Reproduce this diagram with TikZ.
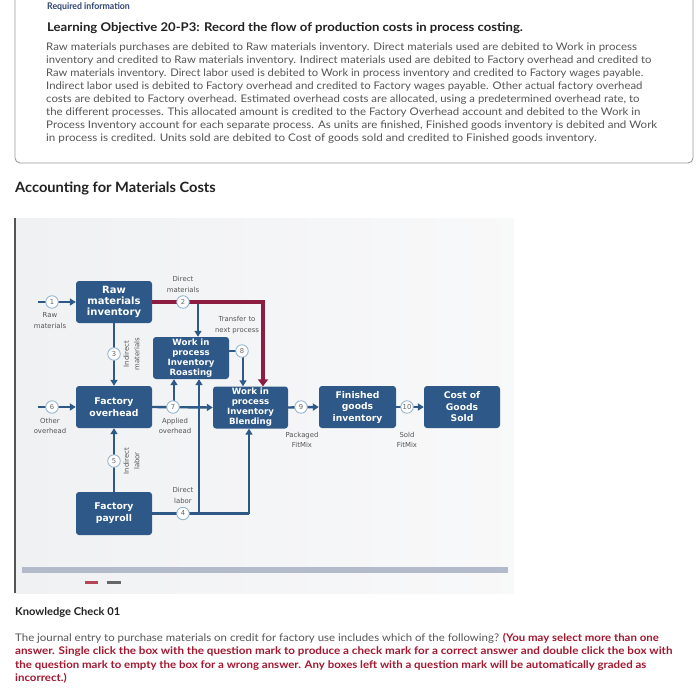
\documentclass[tikz,border=0pt]{standalone}
\usepackage{graphicx}
\usepackage{fontspec}
\setmainfont{Lato}
\newfontfamily\dv{DejaVu Sans}
\usetikzlibrary{arrows.meta}
\newcommand\sxw[2]{\scalebox{#1}[1]{#2}}
\definecolor{boxblue}{HTML}{2D5887}
\definecolor{lineblue}{HTML}{2E5886}
\definecolor{redline}{HTML}{8C1D40}
\definecolor{ringblue}{HTML}{8FB3CC}
\definecolor{numgrey}{HTML}{666666}
\definecolor{lblgrey}{HTML}{555555}
\definecolor{paragrey}{HTML}{555555}
\definecolor{headdark}{HTML}{222222}
\definecolor{reqblue}{HTML}{2E4470}
\definecolor{kcred}{HTML}{A3172F}
\definecolor{panelbg}{HTML}{F0F1F3}
\definecolor{sliderc}{HTML}{B3BBCB}
\definecolor{framegrey}{HTML}{9A9A9A}
\tikzset{
  acct/.style={fill=boxblue, rounded corners=3pt, text=white, align=center, inner sep=0pt,
    minimum width=76pt, minimum height=42pt, font=\dv\bfseries\fontsize{9}{11.5}\selectfont},
  flow/.style={draw=lineblue, line width=2.4pt, -{Triangle[length=6pt,width=7pt]}},
  plainflow/.style={draw=lineblue, line width=2.4pt},
  redflow/.style={draw=redline, line width=4pt, -{Triangle[length=7pt,width=10pt]}},
  num/.style={circle, draw=ringblue, line width=0.8pt, fill=white, text=numgrey,
    font=\dv\fontsize{6.8}{7}\selectfont, inner sep=0.6pt, minimum size=12.5pt},
  lbl/.style={text=lblgrey, font=\dv\fontsize{6.9}{10.5}\selectfont, align=center, inner sep=0pt},
  ptext/.style={anchor=base west, inner sep=0pt, text=paragrey, font=\fontsize{10.5}{12}\selectfont},
  ktext/.style={anchor=base west, inner sep=0pt, text=paragrey, font=\fontsize{10.5}{12}\selectfont},
  kred/.style={anchor=base west, inner sep=0pt, text=kcred, font=\bfseries\fontsize{10.5}{12}\selectfont},
  dashmark/.style={line width=3pt},
}
\begin{document}
\begin{tikzpicture}[x=1pt,y=-1pt]
\useasboundingbox (0,0) rectangle (700,698);
\fill[white] (0,0) rectangle (700,698);
% top frame
\draw[framegrey, line width=0.9pt, rounded corners=5pt] (15,-10) -- (15,163) -- (693,163) -- (693,-10);
\node[anchor=base west, inner sep=0pt, text=reqblue, font=\bfseries\fontsize{9.2}{11}\selectfont] (req) at (47,9.5) {\sxw{0.95}{Required information}};
\node[anchor=base west, inner sep=0pt, text=headdark, font=\bfseries\fontsize{12}{13}\selectfont] (lo) at (47,31.5) {\sxw{1.094}{Learning Objective 20-P3: Record the flow of production costs in process costing.}};
\node[ptext] (p1) at (46,50.5) {\sxw{1.093}{Raw materials purchases are debited to Raw materials inventory. Direct materials used are debited to Work in process}};
\node[ptext] (p2) at (46,63.5) {\sxw{1.078}{inventory and credited to Raw materials inventory. Indirect materials used are debited to Factory overhead and credited to}};
\node[ptext] (p3) at (46,76.5) {\sxw{1.066}{Raw materials inventory. Direct labor used is debited to Work in process inventory and credited to Factory wages payable.}};
\node[ptext] (p4) at (46,89.5) {\sxw{1.08}{Indirect labor used is debited to Factory overhead and credited to Factory wages payable. Other actual factory overhead}};
\node[ptext] (p5) at (46,102.5) {\sxw{1.083}{costs are debited to Factory overhead. Estimated overhead costs are allocated, using a predetermined overhead rate, to}};
\node[ptext] (p6) at (46,115.5) {\sxw{1.093}{the different processes. This allocated amount is credited to the Factory Overhead account and debited to the Work in}};
\node[ptext] (p7) at (46,128.5) {\sxw{1.099}{Process Inventory account for each separate process. As units are finished, Finished goods inventory is debited and Work}};
\node[ptext] (p8) at (46,141.5) {\sxw{1.11}{in process is credited. Units sold are debited to Cost of goods sold and credited to Finished goods inventory.}};
% section heading
\node[anchor=base west, inner sep=0pt, text=headdark, font=\bfseries\fontsize{14.2}{16}\selectfont] (acc) at (15,192) {\sxw{1.03}{Accounting for Materials Costs}};
% panel
\shade[left color=panelbg, right color=panelbg!45] (15,218) rectangle (514,593);
\draw[lblgrey, line width=1.4pt] (15,218) -- (15,593);
\fill[sliderc] (22,567) rectangle (508,573);
\draw[kcred!80, dashmark] (85,582.5) -- (98,582.5);
\draw[lblgrey!90, dashmark] (107,582.5) -- (121,582.5);
% boxes
\node[acct, font=\dv\bfseries\fontsize{10}{11}\selectfont] (raw) at (114,302) {Raw\\materials\\inventory};
\node[acct, font=\dv\bfseries\fontsize{8.6}{10}\selectfont] (roast) at (191,358) {Work in\\process\\Inventory\\Roasting};
\node[acct, font=\dv\bfseries\fontsize{9.3}{12}\selectfont] (fo) at (114,407) {Factory\\overhead};
\node[acct, minimum width=75pt, font=\dv\bfseries\fontsize{8.6}{10}\selectfont] (blend) at (250.5,407.5) {Work in\\process\\Inventory\\Blending};
\node[acct, minimum height=43pt, font=\dv\bfseries\fontsize{9.3}{12}\selectfont] (payroll) at (114,513.5) {Factory\\payroll};
\node[acct, minimum width=77pt, font=\dv\bfseries\fontsize{9.2}{11.5}\selectfont] (fg) at (357.5,407) {Finished\\goods\\inventory};
\node[acct, font=\dv\bfseries\fontsize{9.2}{11.5}\selectfont] (cogs) at (462,407) {Cost of\\Goods\\Sold};
% coordinates
\coordinate (s1) at (38,302);
\coordinate (s6) at (38,407);
\coordinate (rbend) at (263,302);
\coordinate (b2) at (198,302);
\coordinate (c8) at (243,351);
\coordinate (b7) at (174,407);
\coordinate (c4) at (249,513.5);
\coordinate (b4) at (199,513.5);
% connectors
\draw[flow] (s1) -- (raw.west);
\draw[flow] (b2) -- (b2 |- roast.north);
\draw[redflow] (raw.east) -- (rbend) -- (rbend |- blend.north);
\draw[flow] (raw.south) -- (fo.north);
\draw[flow] (s6) -- (fo.west);
\draw[flow] (fo.east) -- (blend.west);
\draw[flow] (b7) -- (b7 |- roast.south);
\draw[flow] (payroll.north) -- (fo.south);
\draw[plainflow] (payroll.east) -- (c4);
\draw[flow] (c4) -- (c4 |- blend.south);
\draw[flow] (b4) -- (b4 |- roast.south);
\draw[flow] (roast.east |- c8) -- (c8) -- (c8 |- blend.north);
\draw[flow] (blend.east) -- (fg.west);
\draw[flow] (fg.east) -- (cogs.west);
% numbered circles
\node[num] (n1) at (52,302) {1};
\node[num] (n2) at (183,302) {2};
\node[num] (n3) at (114,354) {3};
\node[num] (n4) at (183,513.5) {4};
\node[num] (n5) at (114,461) {5};
\node[num] (n6) at (52,407) {6};
\node[num] (n7) at (173,407) {7};
\node[num] (n8) at (242,351) {8};
\node[num] (n9) at (301,407) {9};
\node[num] (n10) at (407,407) {10};
% labels
\node[lbl] (l1) at (50,320.5) {Raw\\materials};
\node[lbl] (l2) at (183,284.5) {Direct\\materials};
\node[lbl] (l8) at (237,325) {Transfer to\\next process};
\node[lbl, rotate=90] (l3) at (131.5,354) {Indirect\\materials};
\node[lbl] (l6) at (50,426) {Other\\overhead};
\node[lbl] (l7) at (175,426) {Applied\\overhead};
\node[lbl, rotate=90] (l5) at (131.5,461) {Indirect\\labor};
\node[lbl] (l4) at (183,495.5) {Direct\\labor};
\node[lbl] (l9) at (302,440) {Packaged\\FitMix};
\node[lbl] (l10) at (407,440) {Sold\\FitMix};
% knowledge check
\node[anchor=base west, inner sep=0pt, text=headdark, font=\bfseries\fontsize{10.8}{12}\selectfont] (kc) at (15,615) {\sxw{1.03}{Knowledge Check 01}};
\node[ktext] (k1) at (15,641.5) {\sxw{1.09}{The journal entry to purchase materials on credit for factory use includes which of the following? \textcolor{kcred}{\bfseries (You may select more than one}}};
\node[kred] (k2) at (15,654.8) {\sxw{1.11}{answer. Single click the box with the question mark to produce a check mark for a correct answer and double click the box with}};
\node[kred] (k3) at (15,668.1) {\sxw{1.09}{the question mark to empty the box for a wrong answer. Any boxes left with a question mark will be automatically graded as}};
\node[kred] (k4) at (15,681.4) {\sxw{1.09}{incorrect.)}};
\end{tikzpicture}
\end{document}
